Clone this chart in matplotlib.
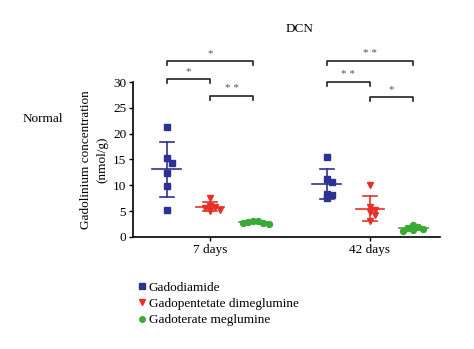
import numpy as np
import matplotlib
matplotlib.use("Agg")
import matplotlib.pyplot as plt

plt.rcParams['font.family'] = ['Liberation Serif', 'DejaVu Serif']

groups = ["7 days", "42 days"]
agents = ["Gadodiamide", "Gadopentetate dimeglumine", "Gadoterate meglumine"]
colors = ["#2E3192", "#E8302A", "#3AAA35"]
markers = ["s", "v", "o"]

# values (nmol/g) per agent, per time point
gadodiamide = [[21.3, 15.2, 14.4, 12.4, 9.9, 5.2],
               [15.5, 11.2, 10.7, 8.4, 8.1, 7.5]]
gadopentetate = [[7.5, 6.0, 5.8, 5.3, 5.0, 5.6],
                 [10.0, 5.8, 5.2, 4.8, 4.2, 3.0]]
gadoterate = [[3.1, 2.9, 2.7, 2.6, 2.8, 3.0],
              [2.4, 1.9, 1.6, 1.3, 1.8, 1.2]]
series = [gadodiamide, gadopentetate, gadoterate]

# significance brackets: (group, agent a, agent b, level, label)
brackets = [(0, 0, 2, 34.1, "*"), (0, 0, 1, 30.6, "*"), (0, 1, 2, 27.3, "* *"),
            (1, 0, 2, 34.1, "* *"), (1, 0, 1, 30.0, "* *"), (1, 1, 2, 27.1, "*")]

offset = 0.27
pos = {}


def swarm(vals, dx=0.032, dy=0.9):
    placed = []
    xs = [0.0] * len(vals)
    for i in np.argsort(vals)[::-1]:
        for k in [0, 1, -1, 2, -2, 3, -3]:
            x = k * dx
            if all(abs(x - px) >= dx * 0.99 or abs(vals[i] - py) >= dy for px, py in placed):
                break
        xs[i] = x
        placed.append((x, vals[i]))
    return xs


fig = plt.figure(figsize=(4.74, 3.49), dpi=100)
ax = fig.add_axes([0.281, 0.321, 0.648, 0.444])

for g in range(len(groups)):
    for a in range(len(agents)):
        xc = g + 1 + (a - 1) * offset
        pos[(g, a)] = xc
        vals = np.array(series[a][g])
        xs = xc + np.array(swarm(vals))
        ax.plot(xs, vals, linestyle="none", marker=markers[a], color=colors[a],
                markersize=4.3, clip_on=False, zorder=3)
        m, sd = vals.mean(), vals.std(ddof=1)
        ax.plot([xc - 0.09, xc + 0.09], [m, m], color=colors[a], lw=1.2)
        ax.plot([xc, xc], [m - sd, m + sd], color=colors[a], lw=1.2)
        for v in (m - sd, m + sd):
            ax.plot([xc - 0.045, xc + 0.045], [v, v], color=colors[a], lw=1.2)

for g, a, b, lvl, lab in brackets:
    x1, x2 = pos[(g, a)], pos[(g, b)]
    ax.plot([x1, x1, x2, x2], [lvl - 0.8, lvl, lvl, lvl - 0.8], color="#222222",
            lw=1.2, clip_on=False)
    ax.text((x1 + x2) / 2, lvl + 0.5, lab, ha="center", va="bottom", fontsize=8,
            color="#555555", clip_on=False)

ax.set_xlim(0.52, 2.44)
ax.set_ylim(0, 30)
ax.set_yticks([0, 5, 10, 15, 20, 25, 30])
ax.set_xticks([1, 2])
ax.set_xticklabels(groups)
ax.tick_params(labelsize=9.5, length=3, width=1, pad=2)
for s in ["top", "right"]:
    ax.spines[s].set_visible(False)
for s in ["left", "bottom"]:
    ax.spines[s].set_linewidth(1.2)
ax.set_ylabel("Gadolinium concentration\n(nmol/g)", fontsize=9.5, labelpad=3,
              linespacing=1.55)

fig.text(0.633, 0.918, "DCN", ha="center", va="center", fontsize=9.5)
fig.text(0.091, 0.66, "Normal", ha="center", va="center", fontsize=9.5)

handles = [plt.Line2D([], [], linestyle="none", marker=markers[i], color=colors[i],
                      markersize=4) for i in range(3)]
fig.legend(handles, agents, loc="upper left", bbox_to_anchor=(0.293, 0.193),
           frameon=False, fontsize=9.5, handletextpad=0.25, labelspacing=0.3,
           handlelength=0.5, borderaxespad=0, borderpad=0)

fig.savefig("out.png", dpi=100)
